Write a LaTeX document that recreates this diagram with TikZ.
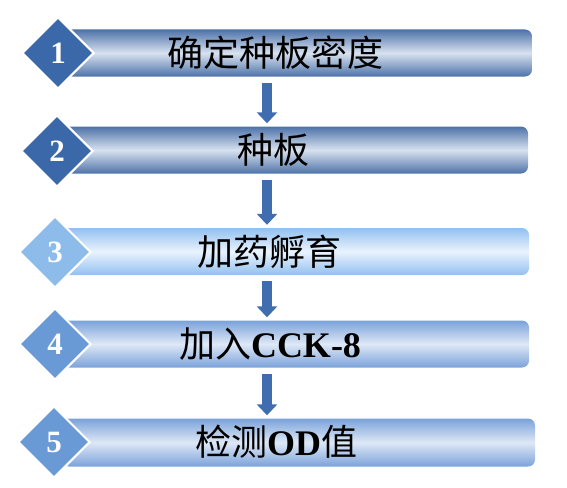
\documentclass[tikz,border=0pt]{standalone}
\usepackage{fontspec}
\setmainfont{Liberation Serif}
\newfontfamily\cjk{Noto Sans CJK SC}
\newfontfamily\digitfont{Liberation Serif}
\usetikzlibrary{shapes.geometric,arrows.meta}

\definecolor{deepblue}{HTML}{3A68A8}
\definecolor{paleblue}{HTML}{8DBCEB}
\definecolor{midblue}{HTML}{6A9AD6}
\definecolor{arrowblue}{HTML}{3F6DB0}
\definecolor{deepedge}{HTML}{4D72A8}
\definecolor{deepmid}{HTML}{D8E2EF}
\definecolor{paleedge}{HTML}{92C0F0}
\definecolor{palemid}{HTML}{EAF3FD}
\definecolor{midedge}{HTML}{7BA2DA}
\definecolor{midmid}{HTML}{DEE8F6}

\tikzset{
	bar/.style={rounded corners=7pt,minimum height=47pt,inner sep=0pt},
	deepbar/.style={bar,top color=deepedge,bottom color=deepedge,middle color=deepmid},
	palebar/.style={bar,top color=paleedge,bottom color=paleedge,middle color=palemid},
	midbar/.style={bar,top color=midedge,bottom color=midedge,middle color=midmid},
	badge/.style={diamond,draw=white,line width=2pt,minimum width=72pt,minimum height=72pt,
		inner sep=0pt,text=white,font=\digitfont\bfseries\fontsize{31}{33}\selectfont},
	steptext/.style={font=\cjk\fontsize{36}{40}\selectfont,inner sep=0pt},
	flow/.style={arrowblue,line width=10pt,-{Triangle[width=20pt,length=11pt]},
		shorten <=6pt,shorten >=3pt}
}

\begin{document}
\begin{tikzpicture}[x=1pt,y=-1pt]
	\useasboundingbox (0,0) rectangle (567,487);

	% shaded bars behind the badges
	\node[deepbar,minimum width=470pt] (b1) at (297,53) {};
	\node[deepbar,minimum width=466pt] (b2) at (295,150) {};
	\node[palebar,minimum width=467pt] (b3) at (295.5,251.5) {};
	\node[midbar,minimum width=467pt] (b4) at (295.5,344) {};
	\node[midbar,minimum width=473pt,minimum height=48pt] (b5) at (298.5,442.5) {};

	% step badges
	\node[badge,fill=deepblue] (d1) at (58,53) {1};
	\node[badge,fill=deepblue] (d2) at (57,151) {2};
	\node[badge,fill=paleblue] (d3) at (55,252) {3};
	\node[badge,fill=midblue] (d4) at (55,344) {4};
	\node[badge,fill=midblue] (d5) at (54,442) {5};

	% step texts
	\node[steptext] (t1) at (275,53) {确定种板密度};
	\node[steptext] (t2) at (273,150) {种板};
	\node[steptext] (t3) at (269,252) {加药孵育};
	\node[steptext] (t4) at (270,344) {加入{\rmfamily\bfseries CCK-8}};
	\node[steptext] (t5) at (276,442) {检测{\rmfamily\bfseries OD}值};

	% arrows between the bars
	\coordinate (ax) at (267,0);
	\draw[flow] (b1.south -| ax) -- (b2.north -| ax);
	\draw[flow] (b2.south -| ax) -- (b3.north -| ax);
	\draw[flow] (b3.south -| ax) -- (b4.north -| ax);
	\draw[flow] (b4.south -| ax) -- (b5.north -| ax);
\end{tikzpicture}
\end{document}
